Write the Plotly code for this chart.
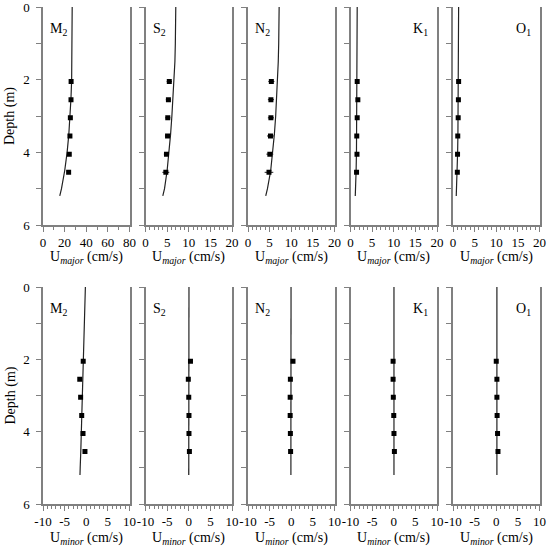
import plotly.graph_objects as go
from plotly.subplots import make_subplots

# tidal constituents (panel order)
constituents = ["M<sub>2</sub>", "S<sub>2</sub>", "N<sub>2</sub>", "K<sub>1</sub>", "O<sub>1</sub>"]

# depths of the observation bins and of the model profile (m)
depth_obs = [2.05, 2.55, 3.05, 3.55, 4.05, 4.55]
depth_model = [0.0, 0.5, 1.0, 1.5, 2.0, 2.5, 3.0, 3.5, 4.0, 4.5, 5.0, 5.2]

# major-axis velocity (cm/s): model profiles
major_model_m2 = [27.0, 27.0, 26.9, 26.8, 26.5, 25.9, 25.1, 23.9, 22.3, 20.1, 17.1, 15.5]
major_model_s2 = [7.0, 7.0, 6.9, 6.8, 6.6, 6.35, 6.1, 5.8, 5.45, 5.0, 4.4, 4.0]
major_model_n2 = [7.2, 7.2, 7.1, 7.0, 6.85, 6.65, 6.4, 6.1, 5.75, 5.25, 4.5, 4.1]
major_model_k1 = [1.55, 1.55, 1.54, 1.53, 1.52, 1.5, 1.47, 1.43, 1.38, 1.3, 1.17, 1.1]
major_model_o1 = [1.3, 1.3, 1.29, 1.28, 1.26, 1.23, 1.19, 1.14, 1.07, 0.97, 0.82, 0.75]

# major-axis velocity (cm/s): observations and error
major_obs_m2 = [26.0, 25.9, 25.3, 24.9, 24.3, 23.7]
major_obs_s2 = [5.5, 5.3, 5.15, 5.1, 4.85, 4.7]
major_obs_n2 = [5.4, 5.3, 5.3, 5.2, 5.05, 4.85]
major_obs_k1 = [1.55, 1.7, 1.55, 1.45, 1.5, 1.4]
major_obs_o1 = [1.3, 1.25, 1.2, 1.1, 1.05, 1.0]
major_err_m2 = [1.0, 1.0, 1.0, 1.0, 1.2, 1.2]
major_err_s2 = [0.6, 0.6, 0.6, 0.6, 0.6, 0.8]
major_err_n2 = [0.7, 0.7, 0.7, 0.8, 0.8, 1.0]
major_err_k1 = [0.2, 0.2, 0.2, 0.2, 0.2, 0.2]
major_err_o1 = [0.2, 0.2, 0.2, 0.2, 0.2, 0.2]

# minor-axis velocity (cm/s): model profiles
minor_model_m2 = [-0.2, -0.3, -0.4, -0.5, -0.6, -0.7, -0.8, -0.95, -1.1, -1.25, -1.4, -1.45]
minor_model_s2 = [0.05, 0.05, 0.05, 0.04, 0.04, 0.03, 0.03, 0.02, 0.02, 0.01, 0.0, 0.0]
minor_model_n2 = [-0.05, -0.05, -0.05, -0.05, -0.06, -0.06, -0.06, -0.07, -0.07, -0.08, -0.08, -0.08]
minor_model_k1 = [0.05, 0.05, 0.05, 0.05, 0.05, 0.05, 0.05, 0.05, 0.05, 0.05, 0.05, 0.05]
minor_model_o1 = [0.15, 0.15, 0.15, 0.15, 0.15, 0.15, 0.15, 0.15, 0.15, 0.15, 0.15, 0.15]

# minor-axis velocity (cm/s): observations and error
minor_obs_m2 = [-0.7, -1.5, -1.3, -1.05, -0.75, -0.3]
minor_obs_s2 = [0.4, -0.1, 0.0, 0.05, 0.05, 0.15]
minor_obs_n2 = [0.4, -0.2, -0.25, -0.25, -0.2, -0.15]
minor_obs_k1 = [-0.15, -0.15, -0.1, 0.0, 0.05, 0.15]
minor_obs_o1 = [0.0, 0.15, 0.15, 0.2, 0.3, 0.4]
minor_err = [0.3, 0.3, 0.3, 0.3, 0.3, 0.3]

# tick labels
depth_ticks = [0, 1, 2, 3, 4, 5, 6]
depth_labels = ["0", "", "2", "", "4", "", "6"]
m2_major_ticks = [0, 20, 40, 60, 80]
major_ticks = [0, 5, 10, 15, 20]
minor_ticks = [-10, -5, 0, 5, 10]
minor_labels = ["-10", "-5", "0", "5", "10"]

top_model = [major_model_m2, major_model_s2, major_model_n2, major_model_k1, major_model_o1]
top_obs = [major_obs_m2, major_obs_s2, major_obs_n2, major_obs_k1, major_obs_o1]
top_err = [major_err_m2, major_err_s2, major_err_n2, major_err_k1, major_err_o1]
bot_model = [minor_model_m2, minor_model_s2, minor_model_n2, minor_model_k1, minor_model_o1]
bot_obs = [minor_obs_m2, minor_obs_s2, minor_obs_n2, minor_obs_k1, minor_obs_o1]

W, H = 550, 549
FONT = "Liberation Serif, Times New Roman, serif"
AX = "#808080"
INK = "#222222"

fig = make_subplots(rows=2, cols=5)

# panel geometry in pixels
col_left = [43, 145.5, 248, 350.5, 453]
col_w = 86.5
row_top = [7, 287]
row_h = [218, 217]

for r in range(2):
    models = top_model if r == 0 else bot_model
    obss = top_obs if r == 0 else bot_obs
    for c in range(5):
        fig.add_trace(go.Scatter(
            x=models[c], y=depth_model, mode="lines",
            line=dict(color=INK, width=1.2), showlegend=False, hoverinfo="skip"
        ), row=r + 1, col=c + 1)
        errs = top_err[c] if r == 0 else minor_err
        fig.add_trace(go.Scatter(
            x=obss[c], y=depth_obs, mode="markers",
            marker=dict(symbol="square", size=5, color="black"),
            error_x=dict(type="data", array=errs, color=INK, thickness=1, width=0),
            showlegend=False, hoverinfo="skip"
        ), row=r + 1, col=c + 1)

annotations = []
for r in range(2):
    for c in range(5):
        idx = r * 5 + c + 1
        xa = "xaxis" if idx == 1 else f"xaxis{idx}"
        ya = "yaxis" if idx == 1 else f"yaxis{idx}"
        x0 = col_left[c] / W
        x1 = (col_left[c] + col_w) / W
        y1 = 1 - row_top[r] / H
        y0 = 1 - (row_top[r] + row_h[r]) / H
        if r == 0:
            xr = [0, 80] if c == 0 else [0, 20]
            tv = m2_major_ticks if c == 0 else major_ticks
            tt = [str(v) for v in tv]
            mdt = 10 if c == 0 else 1
        else:
            xr = [-10, 10]
            tv = minor_ticks
            tt = minor_labels
            mdt = 1
        fig.layout[xa].update(
            domain=[x0, x1], range=xr, tickmode="array", tickvals=tv, ticktext=tt,
            showline=True, linecolor=AX, linewidth=1.5, mirror=False,
            ticks="outside", ticklen=5, tickcolor=AX, tickwidth=1,
            minor=dict(dtick=mdt, tick0=xr[0], ticks="outside", ticklen=3,
                       tickcolor=AX, tickwidth=1, showgrid=False),
            showgrid=False, zeroline=False, ticklabeloverflow="allow",
            tickfont=dict(family=FONT, size=13, color="black"),
        )
        fig.layout[ya].update(
            domain=[y0, y1], range=[6, 0],
            tickmode="array", tickvals=depth_ticks,
            ticktext=depth_labels if c == 0 else [""] * 7,
            showline=True, linecolor=AX, linewidth=1.5, mirror=True,
            ticks="outside", ticklen=5, tickcolor=AX, tickwidth=1,
            showgrid=False, zeroline=False, ticklabeloverflow="allow",
            ticklabelstandoff=4,
            tickfont=dict(family=FONT, size=13, color="black"),
        )
        xd = f"x{idx if idx > 1 else ''} domain"
        yd = f"y{idx if idx > 1 else ''} domain"
        # constituent label
        if c < 3:
            annotations.append(dict(
                text=constituents[c], xref=xd, yref=yd, x=0.06, y=0.895,
                xanchor="left", yanchor="middle", showarrow=False,
                font=dict(family=FONT, size=14, color="black")))
        else:
            annotations.append(dict(
                text=constituents[c], xref=xd, yref=yd, x=0.92, y=0.895,
                xanchor="right", yanchor="middle", showarrow=False,
                font=dict(family=FONT, size=14, color="black")))
        # x-axis title
        sub = "major" if r == 0 else "minor"
        annotations.append(dict(
            text=f"U<sub><i>{sub}</i></sub> (cm/s)", xref=xd, yref=yd,
            x=0.5, y=-(32 + r * 2) / row_h[r], xanchor="center", yanchor="middle",
            showarrow=False, font=dict(family=FONT, size=14, color="black")))

# y-axis titles
for r in range(2):
    annotations.append(dict(
        text="Depth (m)", xref="paper", yref="paper",
        x=10 / W, y=1 - (row_top[r] + row_h[r] / 2) / H,
        xanchor="center", yanchor="middle", textangle=-90, showarrow=False,
        font=dict(family=FONT, size=14, color="black")))

fig.update_layout(
    width=W, height=H,
    margin=dict(l=0, r=0, t=0, b=0),
    template="none",
    plot_bgcolor="white", paper_bgcolor="white",
    showlegend=False,
    annotations=annotations,
    font=dict(family=FONT, color="black"),
)

# drop the browser's default page margin so the figure sits at the window origin
fig.write_html("out.html", config={"displayModeBar": False},
               post_script="document.body.style.margin='0';")
